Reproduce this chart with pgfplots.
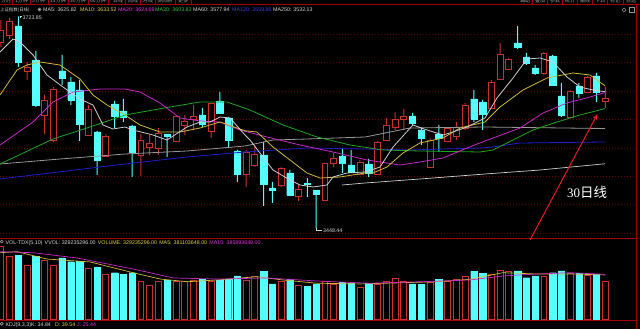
\documentclass[border=0pt]{standalone}
\usepackage{pgfplots}
\pgfplotsset{compat=1.18}
\usepackage{pgfplotstable}
\usepackage{fontspec}
\setmainfont{Liberation Sans}
\newfontfamily\cjk{Noto Sans CJK SC}
\newfontfamily\sernum{Liberation Serif}
\usetikzlibrary{arrows.meta}

\definecolor{upred}{RGB}{200,50,45}
\definecolor{dncyan}{RGB}{84,255,255}
\definecolor{maw}{RGB}{205,205,205}
\definecolor{mayel}{RGB}{205,185,60}
\definecolor{mamag}{RGB}{200,40,200}
\definecolor{magrn}{RGB}{30,165,30}
\definecolor{magray}{RGB}{150,150,150}
\definecolor{mablue}{RGB}{30,30,205}
\definecolor{gridred}{RGB}{105,0,0}
\definecolor{sepred}{RGB}{165,0,0}
\definecolor{txtw}{RGB}{215,215,215}
\definecolor{txty}{RGB}{230,210,60}
\definecolor{txtm}{RGB}{230,50,230}
\definecolor{txtg}{RGB}{50,200,50}
\definecolor{txtb}{RGB}{60,60,235}
\definecolor{tabtxt}{RGB}{160,160,160}

% red = up candles (open < close), hollow
\pgfplotstableread{
i o h l c v
0 3690.4 3719 3683.9 3706 6.22
1 3699.5 3722 3694.3 3717.7 5.43
3 3652.7 3664.4 3641 3657.9 4.66
5 3595.5 3621.5 3570.8 3615 5.03
6 3563 3631.9 3560.4 3629.3 4.66
10 3569.5 3608.5 3568.2 3603.3 4.38
12 3542.2 3570.8 3540.9 3568.2 3.86
16 3543.5 3570.8 3516.2 3563 3.23
17 3553.9 3569.5 3543.5 3559.1 2.95
18 3552.6 3578.6 3543.5 3572.1 3.23
20 3561.7 3594.2 3561.7 3594.2 3.23
21 3582.5 3595.5 3569.5 3587.7 3.23
22 3590.3 3608.5 3576 3594.2 3.38
24 3574.7 3611.1 3565.6 3611.1 3.23
28 3518.8 3550 3501.9 3547.4 3.38
29 3530.5 3556.5 3527.9 3544.8 3.72
32 3504.5 3527.9 3501.9 3526.6 3.23
34 3490.2 3504.5 3483.7 3499.3 2.95
37 3485 3533.1 3483.7 3533.1 3.23
38 3533.1 3546.1 3527.9 3539.6 3.01
41 3518.8 3537 3517.5 3534.4 2.75
43 3518.8 3561.7 3517.5 3560.4 3.01
44 3563 3591.6 3561.7 3582.5 3.29
45 3579.9 3599.4 3576 3590.3 3.52
46 3589.65 3603.3 3576 3593.55 3.23
49 3527.9 3565.6 3527.9 3563 3.15
51 3561.7 3579.9 3560.4 3578.6 3.23
52 3568.2 3586.4 3563 3579.9 3.44
53 3578.6 3611.1 3576 3608.5 3.72
56 3604.6 3641 3603.3 3638.4 3.86
57 3642.3 3689.1 3641 3674.8 4.23
58 3655.3 3669.6 3654 3668.3 4.09
62 3650.1 3677.4 3647.5 3676.1 3.72
65 3592.9 3628 3591.6 3626.7 3.95
67 3625.4 3646.2 3624.1 3644.9 3.80
69 3613.7 3631.9 3604.6 3617.6 3.29
}\redtab

% cyan = down candles (open > close), filled
\pgfplotstableread{
i o h l c v
2 3711.2 3723.85 3657.9 3664.4 5.51
4 3667 3678.7 3605.9 3608.5 5.37
7 3652.7 3673.5 3634.5 3643.6 5.26
8 3638.4 3644.9 3608.5 3615 4.94
9 3628 3641 3561.7 3583.8 5.00
11 3573.4 3574.7 3517.5 3537 4.43
13 3609.8 3613.7 3578.6 3594.2 4.00
14 3600.7 3616.3 3586.4 3592.9 3.86
15 3581.2 3582.5 3514.9 3547.4 4.00
19 3570.8 3570.8 3540.9 3568.2 3.32
23 3595.5 3604.6 3579.9 3583.8 3.44
25 3613.7 3625.4 3598.1 3598.1 3.32
26 3591.6 3592.9 3553.9 3563 3.44
27 3548.7 3550 3508.4 3518.8 3.72
30 3543.5 3560.4 3477.2 3505.8 4.09
31 3500.6 3508.4 3481.1 3498 3.04
33 3520.1 3524 3490.2 3491.5 3.44
35 3506.45 3513.6 3488.9 3505.15 2.86
36 3498 3498 3448.44 3492.8 3.04
39 3542.2 3552.6 3520.1 3533.1 3.18
40 3530.5 3550 3520.1 3521.4 3.10
42 3531.8 3538.3 3514.9 3520.1 3.10
47 3594.2 3598.1 3581.2 3585.1 3.04
48 3576 3578.6 3556.5 3565.6 3.01
50 3570.8 3582.5 3547.4 3565.6 3.44
54 3616.3 3628 3586.4 3590.3 4.12
55 3612.4 3615 3576 3596.8 3.95
59 3689.1 3711.2 3681.3 3683.9 4.15
60 3670.9 3676.1 3660.5 3663.1 3.57
61 3656.6 3660.5 3647.5 3650.1 3.72
63 3672.2 3673.5 3633.2 3634.5 4.00
64 3620.2 3637.1 3592.9 3595.5 4.15
66 3633.2 3637.1 3617.6 3624.1 3.95
68 3646.2 3650.1 3612.4 3625.4 3.86
}\cyantab

\pgfplotsset{
  pricebox/.style={scale only axis, width=636pt, height=233pt,
    xmin=-0.0913, xmax=72.51, ymin=3435.6, ymax=3738.5,
    hide axis, clip=true, enlargelimits=false,
    anchor=north west, at={(0pt,-5pt)}},
  volbox/.style={scale only axis, width=636pt, height=75.5pt,
    xmin=-0.0913, xmax=72.51, ymin=0, ymax=6.455,
    hide axis, clip=true, enlargelimits=false,
    anchor=north west, at={(0pt,-244pt)}},
}

\newcommand{\hdr}{\fontsize{5.3}{6}\selectfont}

\begin{document}
\begin{tikzpicture}
\useasboundingbox (0pt,0pt) rectangle (640pt,-329pt);
\clip (0pt,0pt) rectangle (640pt,-329pt);
\fill[black] (0pt,0pt) rectangle (640pt,-329pt);

\begin{scope}[x=1pt,y=-1pt]
  % grid lines of the price panel
  \foreach \gy in {34.3,62.7,91.1,119.5,147.9,176.3,204.7,233.1}{
    \draw[gridred, line width=0.6pt, dash pattern=on 1pt off 2pt] (0,\gy) -- (636,\gy);}
  % separators
  \draw[sepred, line width=0.8pt] (0,4.5) -- (640,4.5);
  \draw[sepred, line width=0.8pt] (0,238.3) -- (636,238.3);
  \draw[sepred, line width=0.8pt] (0,320.5) -- (636,320.5);
  \draw[sepred, line width=0.8pt] (636,4.5) -- (636,329);
  % toolbar tabs (cut at the top edge)
  \foreach \tx/\tt in {1/分时,15/1分钟,32/5分钟,50/15分钟,70/30分钟,90/60分钟,113/日线,128/周线,143/月线,157/多周期,178/更多,520/辅助,535/叠加,550/参数,565/统计,580/画线,597/F10,610/标记,626/自选}{
    \node[anchor=base west, inner sep=0, text=tabtxt, font=\cjk\fontsize{5}{5}\selectfont] at (\tx,3) {\tt};}
  \foreach \dx in {12,30,48,68,88,108,125,140,155,175,191,532,547,562,577,592,607,623}{
    \draw[sepred, line width=0.6pt] (\dx,0) -- (\dx,4.5);}
  % header of the price panel
  \node[anchor=base west, inner sep=0, text=txtw, font=\cjk\fontsize{4.4}{5}\selectfont] at (0,12) {上证指数(日线)};
  \draw[txtw, line width=0.4pt] (39.5,9.5) circle (1.7);
  \fill[txtw] (39.5,9.5) circle (0.7);
  \node[anchor=base west, inner sep=0, text=txtw, font=\hdr] at (43,12) {MA5: 3625.82};
  \node[anchor=base west, inner sep=0, text=txty, font=\hdr] at (80,12) {MA10: 3633.52};
  \node[anchor=base west, inner sep=0, text=txtm, font=\hdr] at (118,12) {MA20: 3624.69};
  \node[anchor=base west, inner sep=0, text=txtg, font=\hdr] at (155,12) {MA30: 3603.83};
  \node[anchor=base west, inner sep=0, text=txtw, font=\hdr] at (193,12) {MA60: 3577.94};
  \node[anchor=base west, inner sep=0, text=txtb, font=\hdr] at (232,12) {MA120: 3559.86};
  \node[anchor=base west, inner sep=0, text=txtw, font=\hdr] at (273,12) {MA250: 3532.13};
  % icons top right
  \draw[magray, line width=0.5pt] (624,8) -- (626,10) -- (624,12) -- (622,10) -- cycle;
  \draw[magray, line width=0.5pt] (629.5,7.5) rectangle (634,12);
\end{scope}

% red (up) candles: invisible base, lower wick, hollow body, upper wick
\begin{axis}[pricebox, ybar stacked]
\addplot[draw=none, fill=none, bar width=0.115] table[x=i, y=l] {\redtab};
\addplot[draw=none, fill=upred, bar width=0.115] table[x=i, y expr=\thisrow{o}-\thisrow{l}] {\redtab};
\addplot[draw=upred, fill=black, line width=0.9pt, bar width=0.68] table[x=i, y expr=\thisrow{c}-\thisrow{o}] {\redtab};
\addplot[draw=none, fill=upred, bar width=0.115] table[x=i, y expr=\thisrow{h}-\thisrow{c}] {\redtab};
\end{axis}

% cyan (down) candles
\begin{axis}[pricebox, ybar stacked]
\addplot[draw=none, fill=none, bar width=0.115] table[x=i, y=l] {\cyantab};
\addplot[draw=none, fill=dncyan, bar width=0.115] table[x=i, y expr=\thisrow{c}-\thisrow{l}] {\cyantab};
\addplot[draw=dncyan, fill=dncyan, line width=0.4pt, bar width=0.72] table[x=i, y expr=\thisrow{o}-\thisrow{c}] {\cyantab};
\addplot[draw=none, fill=dncyan, bar width=0.115] table[x=i, y expr=\thisrow{h}-\thisrow{o}] {\cyantab};
\end{axis}

% moving averages
\begin{axis}[pricebox]
% MA250
\addplot[maw, line width=0.7pt, mark=none] coordinates {(38.95,3504.5) (41.58,3507.1) (47.85,3512.3) (55.27,3518.8) (61.55,3524) (68.97,3532.1)};
% MA120
\addplot[mablue, line width=0.8pt, mark=none] coordinates {(-0.09,3512.3) (14.18,3531.8) (21.26,3540.9) (27.88,3547.4) (34.95,3552.6) (41.58,3551.3) (46.71,3550) (54.7,3552.6) (56.19,3553.9) (59.27,3559.1) (68.97,3560.4)};
% MA60
\addplot[magray, line width=0.8pt, mark=none] coordinates {(-0.09,3531.8) (6.76,3538.3) (14.18,3544.8) (21.26,3548.7) (27.88,3555.2) (31.07,3563) (34.95,3564.3) (41.58,3566.9) (46.71,3578.6) (55.27,3579.9) (68.97,3577.9)};
% MA30
\addplot[magrn, line width=0.8pt, mark=none] coordinates {(-0.09,3531.8) (5.96,3564.3) (10.18,3579.9) (14.18,3595.5) (19.32,3605.9) (22.74,3612.4) (25.82,3612.4) (28.45,3602) (32.21,3582.5) (36.1,3566.9) (39.86,3556.5) (43.63,3550) (47.85,3548.7) (54.7,3547.4) (56.19,3550) (58.47,3563) (60.75,3576) (63.49,3586.4) (66.12,3595.5) (68.97,3603.8)};
% MA20
\addplot[mamag, line width=0.8pt, mark=none] coordinates {(-0.09,3556.5) (3.68,3586.4) (5.96,3612.4) (8.24,3625.4) (11.32,3629.3) (14.18,3629.3) (15.89,3625.4) (18.17,3611.1) (20.46,3591.6) (22.74,3587.7) (25.02,3586.4) (27.3,3576) (30.39,3566.9) (34.16,3556.5) (37.92,3547.4) (41.8,3537) (45.57,3530.5) (47.85,3534.4) (50.48,3539.6) (53.22,3552.6) (55.27,3561.7) (59.27,3578.6) (61.9,3598.1) (64.63,3611.1) (67.26,3618.9) (68.97,3624.7)};
% MA10
\addplot[mayel, line width=0.8pt, mark=none] coordinates {(-0.09,3621.5) (1.85,3654) (2.99,3660.5) (4.47,3664.4) (6.76,3660.5) (9.04,3642.3) (10.52,3621.5) (12.12,3608.5) (14.18,3595.5) (15.89,3582.5) (18.17,3573.4) (20.46,3573.4) (22.74,3578.6) (25.02,3586.4) (27.88,3575) (29.25,3573.4) (31.07,3553.9) (33.01,3537) (34.95,3520.1) (36.44,3513.6) (38.72,3514.9) (41.58,3520.1) (42.49,3520.1) (44.09,3527.9) (45.91,3546.1) (47.85,3559.1) (50.48,3565.6) (52.42,3578.6) (55.27,3586.4) (56.99,3605.9) (59.61,3628) (62.35,3643.6) (65.32,3650.1) (67.26,3647.5) (68.97,3633.5)};
% MA5
\addplot[maw, line width=0.8pt, mark=none] coordinates {(-0.09,3677.4) (1.39,3694.3) (2.19,3690.4) (3.68,3673.5) (5.27,3647.5) (7.10,3631.9) (9.04,3616.3) (10.52,3608.5) (11.67,3582.5) (12.81,3577.3) (14.18,3579.9) (15.09,3576) (17.37,3569.5) (18.97,3563) (21.26,3579.9) (22.74,3586.4) (23.88,3586.4) (25.02,3592.9) (26.16,3591.6) (27.88,3569.5) (28.45,3563) (29.93,3540.9) (31.07,3524) (33.01,3511) (34.16,3504.5) (35.64,3501.9) (37.24,3504.5) (37.92,3514.9) (39.52,3520.1) (41.58,3521.4) (43.29,3527.9) (44.77,3553.9) (47.05,3582.5) (48.65,3576) (50.48,3569.5) (51.62,3573.4) (53.22,3579.9) (55.27,3591.6) (56.64,3617.6) (58.47,3643.6) (60.07,3668.3) (61.55,3669.6) (63.04,3664.4) (64.63,3644.9) (66.12,3631.9) (67.60,3628) (68.97,3625.8)};
\end{axis}

% volume panel
\begin{axis}[volbox]
\addplot[ybar, bar width=0.68, bar shift=0pt, draw=upred, fill=black, line width=0.9pt] table[x=i, y=v] {\redtab};
\addplot[ybar, bar width=0.72, bar shift=0pt, draw=dncyan, fill=dncyan, line width=0.4pt] table[x=i, y=v] {\cyantab};
\addplot[mayel, line width=0.7pt, mark=none] coordinates {(-0.09,5.71) (1.85,5.80) (5.27,5.17) (10.2,4.92) (15.1,4.00) (18.2,3.46) (21.3,3.23) (24.7,3.38) (29.2,3.66) (32.2,3.38) (36.1,3.10) (41.0,3.04) (44.8,3.12) (49.8,3.23) (53.6,3.44) (57.3,4.00) (61.2,3.89) (65,3.89) (69,3.81)};
\addplot[mamag, line width=0.7pt, mark=none] coordinates {(-0.09,5.80) (3.7,5.71) (8.7,5.26) (15.1,4.32) (19.7,3.55) (24.7,3.46) (30.4,3.55) (36.1,3.29) (42.1,3.10) (47.9,3.23) (53.6,3.38) (57.3,3.72) (61.2,3.89) (65,4.00) (69,3.86)};
\end{axis}

\begin{scope}[x=1pt,y=-1pt]
  % high / low labels
  \draw[txtw, line width=0.4pt] (20,18.5) -- (20,16.2) -- (22,16.2);
  \node[anchor=base west, inner sep=0, text=txtw, font=\hdr] at (22.5,19.3) {3723.85};
  \draw[txtw, line width=0.4pt] (316.2,227.5) -- (316.2,230) -- (322,230);
  \node[anchor=base west, inner sep=0, text=txtw, font=\hdr] at (323,232) {3448.44};
  % annotation arrow and text
  \draw[draw={rgb,255:red,230;green,30;blue,30}, line width=1pt, -{Stealth[length=6pt,width=4.5pt]}] (530,240) -- (597.5,114);
  \node[anchor=base west, inner sep=0, text=white] at (567,197.5) {{\sernum\fontsize{13}{14}\selectfont 30}{\cjk\fontsize{13.5}{14}\selectfont 日线}};
  % volume header
  \draw[txtw, line width=0.4pt] (1.8,241.6) circle (1.5);
  \node[anchor=base west, inner sep=0, font=\hdr] at (5.5,244) {\textcolor{txtw}{VOL-TDX(5,10)}\hspace{2.2pt}\textcolor{txtw}{VVOL: 329235296.00}\hspace{2.2pt}\textcolor{txty}{VOLUME: 329235296.00}\hspace{2.2pt}\textcolor{txty}{MA5: 381103648.00}\hspace{2.2pt}\textcolor{txtm}{MA10: 385893648.00}};
  % KDJ header
  \draw[txtw, line width=0.4pt] (1.8,323.8) circle (1.5);
  \node[anchor=base west, inner sep=0, text=txtw, font=\hdr] at (5.5,326.3) {KDJ(9,3,3)};
  \node[anchor=base west, inner sep=0, text=txtw, font=\hdr] at (31,326.3) {K: 34.84};
  \node[anchor=base west, inner sep=0, text=txty, font=\hdr] at (55,326.3) {D: 39.54};
  \node[anchor=base west, inner sep=0, text=txtm, font=\hdr] at (77,326.3) {J: 25.44};
\end{scope}
\end{tikzpicture}
\end{document}
